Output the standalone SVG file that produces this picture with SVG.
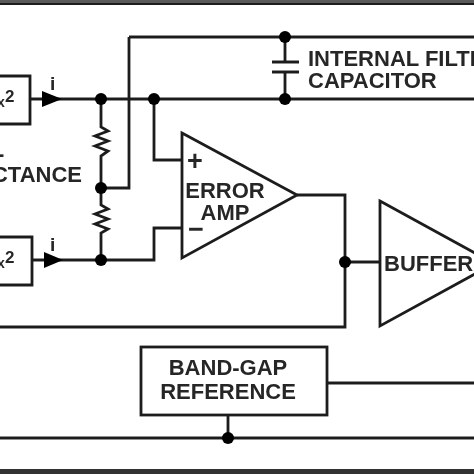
<svg xmlns="http://www.w3.org/2000/svg" width="474" height="474" viewBox="0 0 474 474">
<defs><filter id="soft" x="-5%" y="-5%" width="110%" height="110%"><feGaussianBlur stdDeviation="0.55"/></filter></defs>
<style>
.w{fill:none;stroke:#1f1f1f;stroke-width:2.8;stroke-linejoin:miter}
.s{fill:#fff;stroke:#1f1f1f;stroke-width:2.8}
.d{fill:#000}
text{font-family:"Liberation Sans",Arial,sans-serif;font-weight:700;fill:#262626;font-size:22px}
.i{font-size:19px}
.sup{font-size:17px}
.frag{font-size:14px}
.sign{font-size:27px}
</style>
<rect width="474" height="474" fill="#fff"/>
<g filter="url(#soft)">
<rect x="-5" y="-5" width="484" height="8" fill="#5a5a5a"/>
<rect x="-5" y="3" width="484" height="2" fill="#1f1f1f"/>
<rect x="-5" y="469" width="484" height="10" fill="#333"/>
<g id="connectors">
<path class="w" d="M129 37H480M30 99H480M129 37V188H101M154 99V160H182M32 260H154V228H182M297 195H345V327H-5M345 262H380M327 383H480M-5 438H480M228 415V438"/>
<path class="w" d="M285 37V62M285 72V99M272 62H299M272 72H299"/>
<path class="w" d="M101 99V127L108 131L95 136L108 141L95 146L108 151L101 156V205L108 209L95 214L108 219L95 224L108 229L101 233V260"/>
<path class="d" d="M42 91L62 99L42 107Z M44 252L63 260L44 268Z"/>
<circle class="d" cx="101" cy="99" r="6"/>
<circle class="d" cx="154" cy="99" r="6"/>
<circle class="d" cx="101" cy="188" r="6"/>
<circle class="d" cx="101" cy="260" r="6"/>
<circle class="d" cx="285" cy="37" r="6"/>
<circle class="d" cx="285" cy="99" r="6"/>
<circle class="d" cx="345" cy="262" r="6"/>
<circle class="d" cx="228" cy="438" r="6"/>
</g>
<g id="box1">
<path class="w" d="M-5 76H30V124H-5"/>
<text x="5" y="102" class="sup">2</text>
<text x="-3" y="107" class="frag">x</text>
<text x="50" y="90" class="i">i</text>
</g>
<g id="box2">
<path class="w" d="M-5 237H32V285H-5"/>
<text x="5" y="263" class="sup">2</text>
<text x="-3" y="268" class="frag">x</text>
<text x="50" y="251" class="i">i</text>
</g>
<g id="transconductance">
<text x="-3" y="161">-</text>
<text x="82" y="182" text-anchor="end">CTANCE</text>
</g>
<g id="filter-label">
<text x="308" y="66">INTERNAL FILTER</text>
<text x="308" y="88">CAPACITOR</text>
</g>
<g id="error-amp">
<path class="s" d="M182 133L297 195L182 258Z"/>
<text x="195" y="170" text-anchor="middle" class="sign">+</text>
<text x="196" y="238" text-anchor="middle" class="sign">−</text>
<text x="225" y="198" text-anchor="middle">ERROR</text>
<text x="225" y="220" text-anchor="middle">AMP</text>
</g>
<g id="buffer">
<path class="s" d="M380 201L494 263.500L380 326Z"/>
<text x="384" y="271">BUFFER</text>
</g>
<g id="band-gap">
<rect class="s" x="141" y="347" width="186" height="68"/>
<text x="228" y="375" text-anchor="middle">BAND-GAP</text>
<text x="228" y="399" text-anchor="middle">REFERENCE</text>
</g>
</g>
</svg>
